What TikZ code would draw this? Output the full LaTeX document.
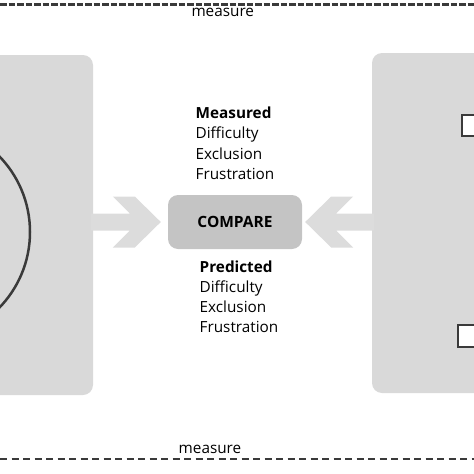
\documentclass[tikz,border=0pt]{standalone}
\usepackage{fontspec}
\setmainfont{Open Sans}
\usepackage{tikz}
\usetikzlibrary{calc,positioning}
\definecolor{panelgray}{HTML}{D9D9D9}
\definecolor{arrowgray}{HTML}{DCDCDC}
\definecolor{boxgray}{HTML}{C4C4C4}
\definecolor{linegray}{HTML}{3A3A3A}
\tikzstyle{panel}        = [rectangle,rounded corners=10pt,fill=panelgray,inner sep=0]
\tikzstyle{compare node} = [rectangle,rounded corners=10pt,fill=boxgray,minimum width=134pt,minimum height=54pt,font=\fontsize{15.5}{20}\selectfont\bfseries]
\tikzstyle{text block}   = [align=left,inner sep=0]
\tikzstyle{block arrow}  = [fill=arrowgray]
\tikzstyle{measure line} = [line width=2.8pt,dash pattern=on 6.5pt off 2pt,color=linegray]
\tikzstyle{item box}     = [rectangle,draw=linegray,line width=1.5pt,fill=white,minimum size=21pt,inner sep=0]

\begin{document}
\begin{tikzpicture}[font=\fontsize{15.3}{20.3}\selectfont,
                    x=1pt, y=-1pt
                    ]
    \useasboundingbox (0,0) rectangle (474,474);

    % the two side panels
    \node(lp)[panel, minimum width=160pt, minimum height=340pt] at (13,225){};
    \node(rp)[panel, minimum width=160pt, minimum height=340pt] at (452,223){};

    \node(user)[circle, draw=linegray, line width=2.5pt, minimum size=217.5pt] at (-78.75,232){};
    \node(b1)[item box] at (472.5,125.5){};
    \node(b2)[item box, minimum size=22pt] at (469,336){};

    \node(cmp)[compare node] at (235,222){COMPARE};
    \node(meas)[text block, above=15pt of cmp]{\textbf{Measured}\\Difficulty\\Exclusion\\Frustration};
    \node(pred)[text block, below=11pt of cmp, xshift=4pt]{\textbf{Predicted}\\Difficulty\\Exclusion\\Frustration};

    \coordinate(la) at (lp.east |- cmp.west);
    \coordinate(lt) at ($(cmp.west)+(-7,0)$);
    \coordinate(ra) at (rp.west |- cmp.east);
    \coordinate(rt) at ($(cmp.east)+(3,0)$);

    \fill[block arrow] ($(la)+(-2,-8.5)$) -- ($(lt)+(-31,-8.5)$) -- ($(lt)+(-48,-25.5)$) -- ($(lt)+(-26,-25.5)$) -- (lt)
        -- ($(lt)+(-26,25.5)$) -- ($(lt)+(-48,25.5)$) -- ($(lt)+(-31,8.5)$) -- ($(la)+(-2,8.5)$) -- cycle;
    \fill[block arrow] ($(ra)+(2,-8.5)$) -- ($(rt)+(31,-8.5)$) -- ($(rt)+(48,-25.5)$) -- ($(rt)+(26,-25.5)$) -- (rt)
        -- ($(rt)+(26,25.5)$) -- ($(rt)+(48,25.5)$) -- ($(rt)+(31,8.5)$) -- ($(ra)+(2,8.5)$) -- cycle;

    % measure lines
    \coordinate(m1a) at (0,4.5);
    \coordinate(m1b) at (474,4.5);
    \coordinate(m2a) at (0,459);
    \coordinate(m2b) at (474,459);
    \draw[measure line](m1a)--(m1b) node[pos=0.47, below=2.5pt, inner sep=0, text=black]{measure};
    \draw[measure line, line width=2.3pt, dash pattern=on 7pt off 4.5pt](m2a)--(m2b)
        node[pos=0.443, above=4pt, inner sep=0, text=black]{measure};

\end{tikzpicture}
\end{document}
